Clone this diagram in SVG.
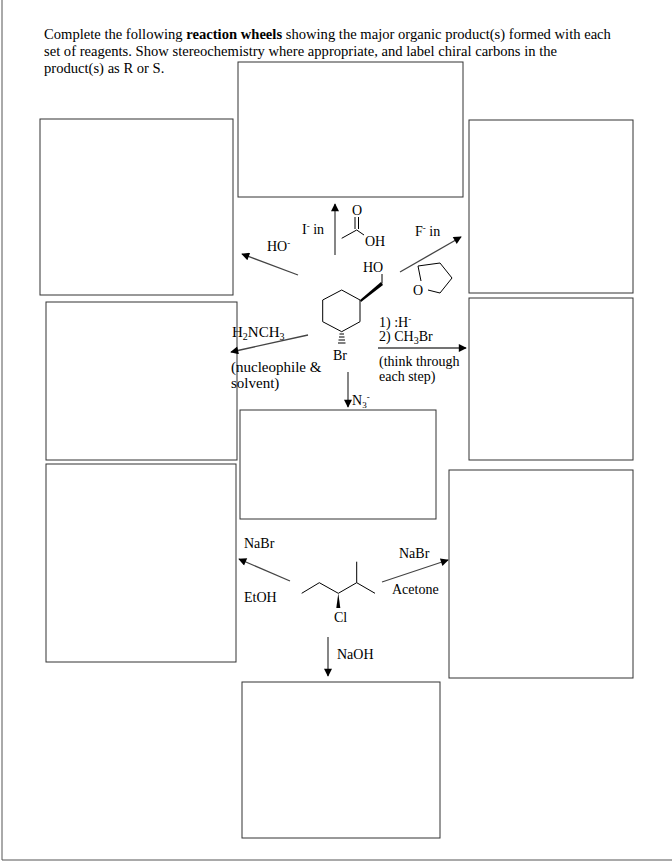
<svg xmlns="http://www.w3.org/2000/svg" width="672" height="862" viewBox="0 0 672 862">
<defs>
<marker id="ah" viewBox="0 0 10 10" refX="9" refY="5" markerWidth="13" markerHeight="8" markerUnits="userSpaceOnUse" orient="auto"><path d="M0,0 L10,5 L0,10 z" fill="#000"/></marker>
</defs>
<style>
.box{fill:#fff;stroke:#333;stroke-width:1}
.h{font-family:"Liberation Serif",serif;font-size:14.6px;fill:#000}
.t{font-family:"Liberation Serif",serif;font-size:15px;fill:#000}
.s{font-family:"Liberation Serif",serif;font-size:14px;fill:#000}
.b{stroke:#000;stroke-width:1;fill:none}
.ar{stroke:#444;stroke-width:1.3;fill:none;marker-end:url(#ah)}
</style>
<rect width="672" height="862" fill="#fff"/>
<line x1="2" y1="0" x2="2" y2="860" stroke="#555"/>
<line x1="2" y1="860" x2="672" y2="860" stroke="#555"/>
<text class="h" x="44" y="39">Complete the following <tspan font-weight="bold">reaction wheels</tspan> showing the major organic product(s) formed with each</text>
<text class="h" x="44" y="56">set of reagents. Show stereochemistry where appropriate, and label chiral carbons in the</text>
<text class="h" x="44" y="73">product(s) as R or S.</text>
<g id="boxes">
<rect class="box" x="238" y="62" width="225" height="135"/>
<rect class="box" x="40" y="119" width="193" height="176"/>
<rect class="box" x="469" y="120" width="164" height="173"/>
<rect class="box" x="46" y="302" width="191" height="158"/>
<rect class="box" x="469" y="298" width="164" height="162"/>
<rect class="box" x="240" y="410" width="196" height="109"/>
<rect class="box" x="46" y="464" width="190" height="198"/>
<rect class="box" x="449" y="470" width="184" height="208"/>
<rect class="box" x="242" y="682" width="198" height="156"/>
</g>
<g id="mol1">
<polygon class="b" points="341.7,290 360,300 360,321.7 341.7,331.7 322.7,321.7 322.7,300"/>
<polygon points="360,300 381,282 383,285 361,302" fill="#000"/>
<line class="b" x1="382" y1="283.5" x2="382" y2="274"/>
<text class="s" x="363" y="272">HO</text>
<g stroke="#000" stroke-width="1">
<line x1="339.5" y1="334" x2="344" y2="334"/><line x1="339" y1="337" x2="344.5" y2="337"/><line x1="338.5" y1="340" x2="345" y2="340"/><line x1="338" y1="343" x2="345.5" y2="343"/>
</g>
<text class="s" x="333" y="360">Br</text>
</g>
<g id="acid">
<polyline class="b" points="341.7,238.3 356.7,230 364,235"/>
<line class="b" x1="355" y1="229" x2="355" y2="217"/><line class="b" x1="358.5" y1="229" x2="358.5" y2="217"/>
<text class="s" x="352" y="215">O</text>
<text class="s" x="365" y="246">OH</text>
</g>
<g id="thf">
<polyline class="b" points="421,281 418,266 440,263 452,278 440,293 428,290"/>
<text class="s" x="413" y="295">O</text>
</g>
<g id="mol2">
<polyline class="b" points="301.7,593.3 319.3,582.7 338.3,593.3 356.7,582.7 375,593.3"/>
<line class="b" x1="356.7" y1="582.7" x2="356.7" y2="561.7"/>
<polygon points="338.3,593.3 336.3,608 340.3,608" fill="#000"/>
<text class="s" x="334" y="622">Cl</text>
</g>
<g id="connectors">
<line class="ar" x1="335" y1="255" x2="335" y2="204"/>
<line class="ar" x1="298" y1="275" x2="242" y2="254"/>
<line class="ar" x1="400" y1="272" x2="461" y2="237"/>
<line class="ar" x1="378" y1="348" x2="466" y2="348"/>
<line class="ar" x1="308" y1="335" x2="231" y2="352"/>
<line class="ar" x1="348" y1="372" x2="348" y2="407"/>
<line class="ar" x1="290" y1="581" x2="239" y2="559"/>
<line class="ar" x1="382" y1="582" x2="448" y2="560"/>
<line class="ar" x1="328" y1="637" x2="328" y2="676"/>
</g>
<g id="labels">
<text class="s" x="302" y="234">I<tspan font-size="9" dy="-5">-</tspan><tspan dy="5"> in</tspan></text>
<text class="s" x="267" y="251">HO<tspan font-size="9" dy="-5">-</tspan></text>
<text class="s" x="415" y="236">F<tspan font-size="9" dy="-5">-</tspan><tspan dy="5"> in</tspan></text>
<text class="s" x="379" y="327">1) :H<tspan font-size="9" dy="-5">-</tspan></text>
<text class="s" x="379" y="341">2) CH<tspan font-size="10" dy="3">3</tspan><tspan dy="-3">Br</tspan></text>
<text class="s" x="379" y="366">(think through</text>
<text class="s" x="379" y="381">each step)</text>
<text class="t" x="232" y="337">H<tspan font-size="10" dy="3">2</tspan><tspan dy="-3">NCH</tspan><tspan font-size="10" dy="3">3</tspan></text>
<text class="t" x="231" y="372">(nucleophile &amp;</text>
<text class="t" x="231" y="388">solvent)</text>
<text class="s" x="352" y="405">N<tspan font-size="9" dy="3">3</tspan><tspan font-size="9" dy="-8">-</tspan></text>
<text class="s" x="244" y="548">NaBr</text>
<text class="s" x="244" y="602">EtOH</text>
<text class="s" x="399" y="558">NaBr</text>
<text class="s" x="392" y="594">Acetone</text>
<text class="s" x="337" y="659">NaOH</text>
</g>
</svg>
